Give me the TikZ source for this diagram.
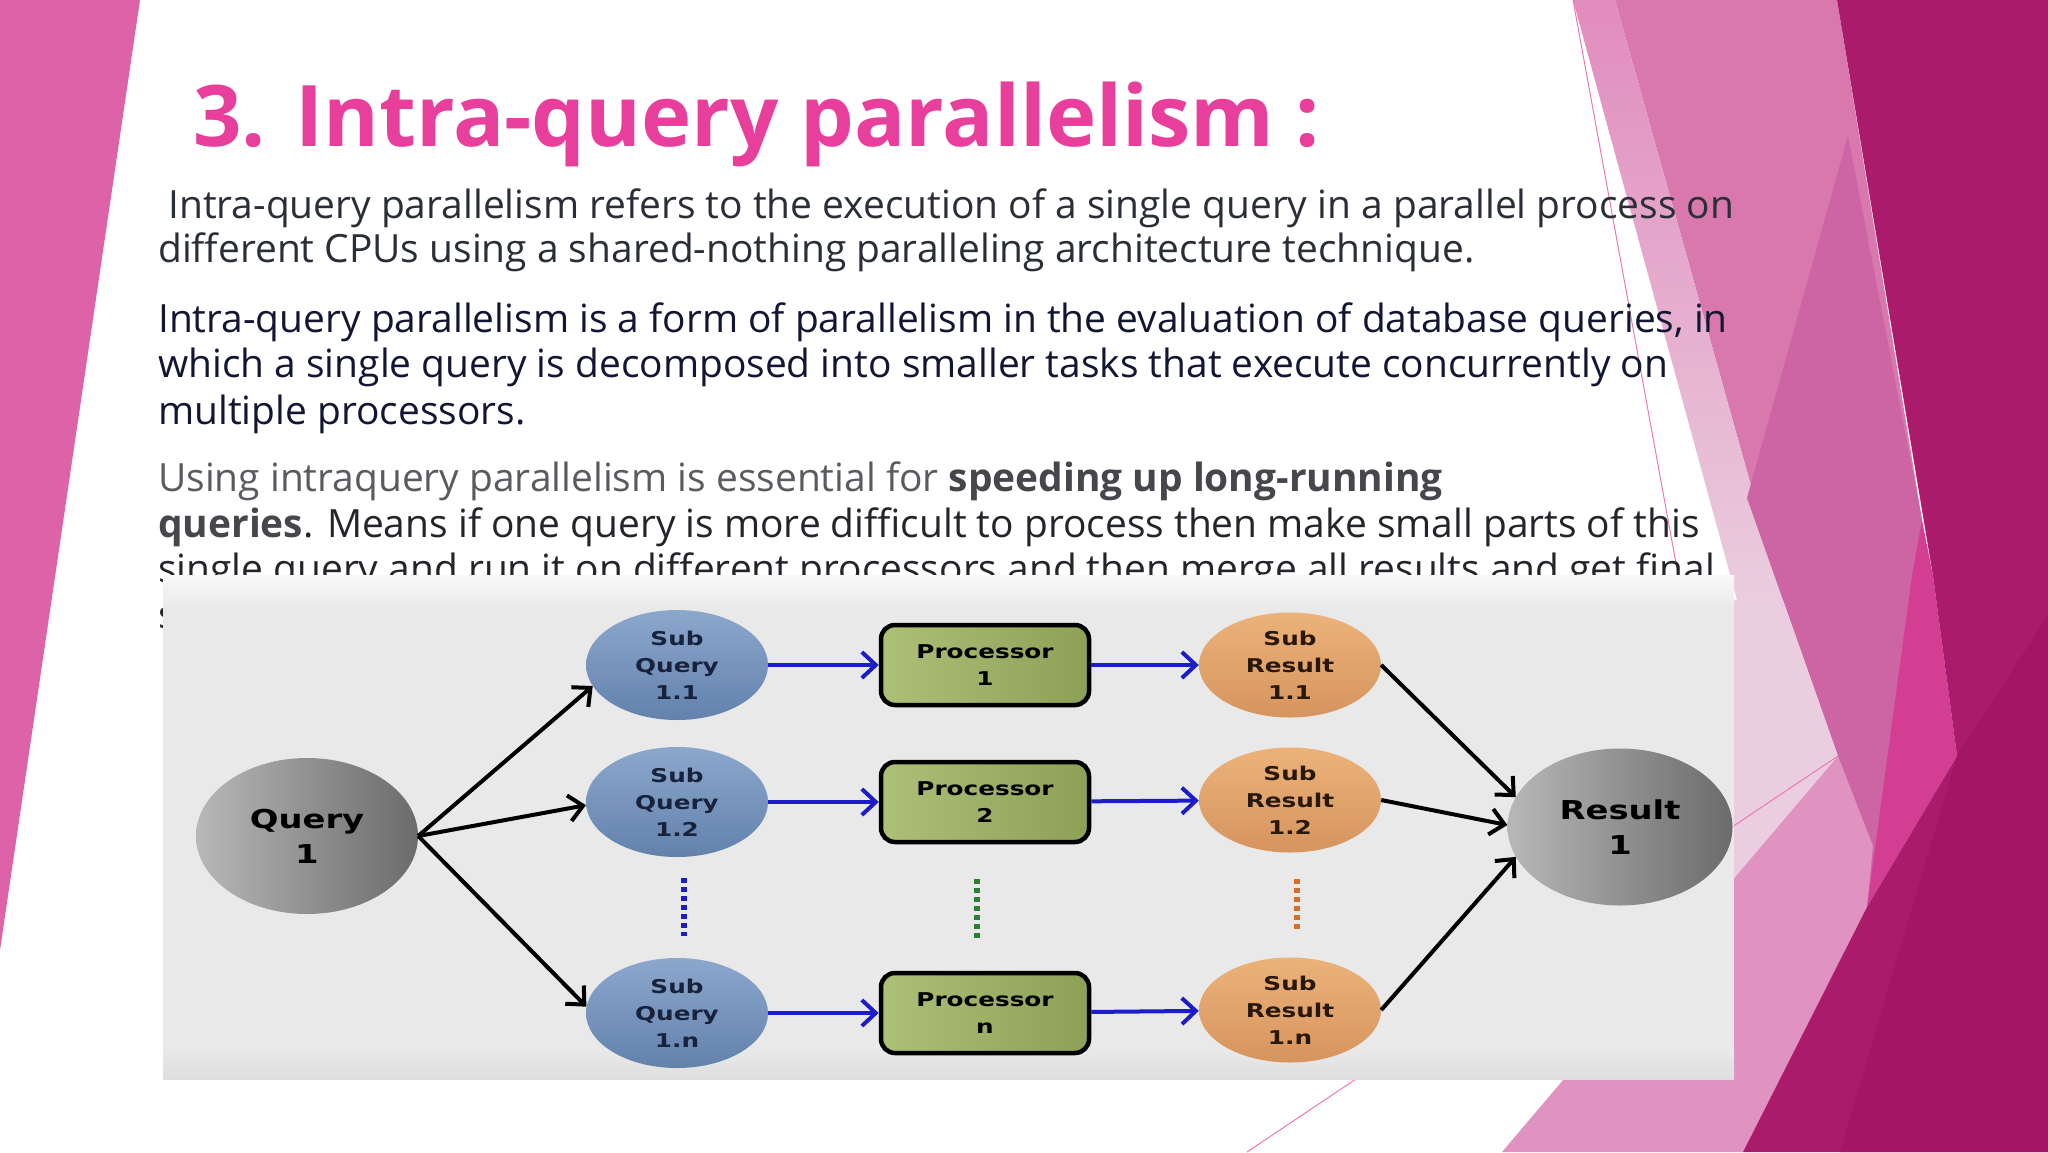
\documentclass[tikz,border=0pt]{standalone}
\usepackage{fontspec}
\setmainfont{Open Sans}
\newfontfamily\diafont[FakeStretch=1.3]{DejaVu Sans Bold}
\usetikzlibrary{positioning, arrows.meta, calc, shapes.geometric}
\definecolor{facet}{RGB}{222,98,168}
\definecolor{plum}{RGB}{171,27,107}
\definecolor{plumdk}{RGB}{163,22,101}
\definecolor{rosy}{RGB}{216,120,172}
\definecolor{rosydk}{RGB}{205,100,163}
\definecolor{rosylt}{RGB}{225,140,190}
\definecolor{hotpk}{RGB}{212,62,146}
\definecolor{blush}{RGB}{234,205,222}
\definecolor{lightpk}{RGB}{224,146,192}
\definecolor{hair}{RGB}{236,120,182}
\definecolor{ttl}{RGB}{232,62,156}
\definecolor{ink}{RGB}{42,46,54}
\definecolor{navy}{RGB}{18,22,50}
\definecolor{slate}{RGB}{90,90,96}
\definecolor{slatedk}{RGB}{70,70,76}
\definecolor{coal}{RGB}{36,36,42}
\definecolor{panel}{RGB}{233,233,233}
\definecolor{arblue}{RGB}{28,28,200}
\definecolor{dotgreen}{RGB}{40,130,50}
\definecolor{dotorange}{RGB}{214,110,40}

\begin{document}
\begin{tikzpicture}[x=1pt,y=-1pt,
    para/.style={anchor=base west,inner sep=0pt,font=\fontsize{38.9}{45}\selectfont},
    qball/.style={ellipse,minimum width=222,minimum height=156,inner sep=0pt,
                  left color=black!28,right color=black!58,align=center,
                  font=\diafont\fontsize{26}{35}\selectfont},
    sqball/.style={ellipse,minimum width=182,minimum height=110,inner sep=0pt,
                   top color={rgb,255:red,140;green,167;blue,204},
                   bottom color={rgb,255:red,98;green,130;blue,172},
                   align=center,text={rgb,255:red,24;green,34;blue,60},
                   font=\diafont\fontsize{19}{27}\selectfont},
    srball/.style={ellipse,minimum width=182,minimum height=105,inner sep=0pt,
                   top color={rgb,255:red,236;green,178;blue,122},
                   bottom color={rgb,255:red,214;green,148;blue,94},
                   align=center,text={rgb,255:red,40;green,24;blue,10},
                   font=\diafont\fontsize{19}{27}\selectfont},
    procbox/.style={rectangle,rounded corners=14pt,draw=black,line width=4.5pt,
                    minimum width=208,minimum height=80,inner sep=0pt,
                    left color={rgb,255:red,172;green,192;blue,120},
                    right color={rgb,255:red,140;green,160;blue,86},
                    align=center,font=\diafont\fontsize{19}{27}\selectfont},
    arr/.style={-{Straight Barb[length=14pt,width=26pt]},line width=4pt,black},
    barr/.style={arr,arblue},
    dots/.style={line width=6pt,dash pattern=on 5pt off 4pt}]

  \useasboundingbox (0,0) rectangle (2048,1152);
  \fill[white] (0,0) rectangle (2048,1152);

  \fill[facet] (0,0) -- (140,0) -- (0,950) -- cycle;

  \fill[rosy] (1615,0) -- (1837,0) -- (1922,520) -- (1867,907) -- (1838,756) -- (1783,600) -- cycle;
  \shade[top color=rosylt,bottom color=blush] (1573,0) -- (1615,0) -- (1783,600) -- (1737,600) -- cycle;
  \fill[rosydk] (1848,136) -- (1922,520) -- (1867,907) -- (1838,756) -- (1783,600) -- (1747,498) -- cycle;
  \fill[blush] (1737,600) -- (1783,600) -- (1838,756) -- (1730,884) -- (1730,600) -- cycle;
  \fill[lightpk] (1502,1152) -- (1838,756) -- (1873,846) -- (1867,907) -- (1743,1152) -- cycle;
  \fill[hotpk] (1922,520) -- (1933,576) -- (1957,756) -- (1867,907) -- (1912,576) -- cycle;
  \fill[plum] (1837,0) -- (2048,0) -- (2048,1152) -- (1743,1152) -- (1867,907) -- (1957,756) -- (1933,576) -- cycle;
  \fill[plumdk] (1957,756) -- (2048,615) -- (2048,1152) -- (1840,1152) -- cycle;
  \draw[hair,line width=1pt] (1573,0) -- (1690,640);
  \draw[hair,line width=1pt] (1247,1152) -- (1838,756);

  \node[anchor=base west,inner sep=0pt,ttl,font=\fontsize{85}{90}\selectfont\bfseries]
       (title) at (193,146) {3. Intra-query parallelism :};

  \node[para,ink] (p1a) at (158,218) {\ Intra-query parallelism refers to the execution of a single query in a parallel process on};
  \node[para,ink] (p1b) at (158,262) {different CPUs using a shared-nothing paralleling architecture technique.};
  \node[para,navy] (p2a) at (158,332) {Intra-query parallelism is a form of parallelism in the evaluation of database queries, in};
  \node[para,navy] (p2b) at (158,377) {which a single query is decomposed into smaller tasks that execute concurrently on};
  \node[para,navy] (p2c) at (158,424) {multiple processors.};
  \node[para,slate] (p3a) at (158,491) {Using intraquery parallelism is essential for \textcolor{slatedk}{\bfseries speeding up long-running}};
  \node[para,coal] (p3b) at (158,537) {\textcolor{slatedk}{\bfseries queries}. Means if one query is more difficult to process then make small parts of this};
  \node[para,coal] (p3c) at (158,582) {single query and run it on different processors and then merge all results and get final};
  \node[para,coal] (p3d) at (158,628) {s};

  \fill[panel] (163,575) rectangle (1734,1079);
  \shade[top color=white!70!panel,bottom color=panel] (163,575) rectangle (1734,610);
  \shade[top color=panel,bottom color=black!13] (163,1050) rectangle (1734,1079);

  \node[qball] (query) at (307,836) {Query\\1};
  \node[sqball] (sq1) at (677,665) {Sub\\Query\\1.1};
  \node[sqball] (sq2) at (677,802) {Sub\\Query\\1.2};
  \node[sqball] (sqn) at (677,1013) {Sub\\Query\\1.n};
  \node[procbox] (pr1) at (985,665) {Processor\\1};
  \node[procbox] (pr2) at (985,802) {Processor\\2};
  \node[procbox] (prn) at (985,1013) {Processor\\n};
  \node[srball] (sr1) at (1290,665) {Sub\\Result\\1.1};
  \node[srball] (sr2) at (1290,800) {Sub\\Result\\1.2};
  \node[srball] (srn) at (1290,1010) {Sub\\Result\\1.n};
  \node[qball,minimum width=225,minimum height=157] (result) at (1620,827) {Result\\1};

  \draw[arr] (query.east) -- (sq1.194);
  \draw[arr] (query.east) -- (sq2.182);
  \draw[arr] (query.east) -- (sqn.176);
  \draw[barr] (sq1) -- (pr1);
  \draw[barr] (sq2) -- (pr2);
  \draw[barr] (sqn) -- (prn);
  \draw[barr] (pr1) -- (sr1);
  \draw[barr] (pr2) -- (sr2);
  \draw[barr] (prn) -- (srn);
  \draw[arr] (sr1.east) -- (result.164);
  \draw[arr] (sr2.east) -- (result.179);
  \draw[arr] (srn.east) -- (result.196);

  \draw[dots,arblue] ($(sq2.south)+(7,21)$) -- ($(sqn.north)+(7,-22)$);
  \draw[dots,dotgreen] ($(pr2.south)+(-8,35)$) -- ($(prn.north)+(-8,-32)$);
  \draw[dots,dotorange] ($(sr2.south)+(7,26)$) -- ($(srn.north)+(7,-28)$);
\end{tikzpicture}
\end{document}
